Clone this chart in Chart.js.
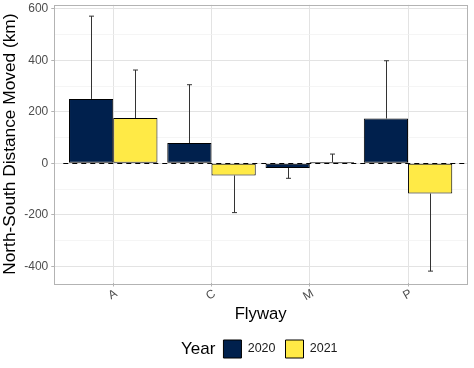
<!DOCTYPE html>
<html>
<head>
<meta charset="utf-8">
<script src="https://cdn.jsdelivr.net/npm/chart.js"></script>
<style>
  html, body { margin: 0; padding: 0; background: #ffffff; }
  #wrap { width: 474px; height: 368px; }
</style>
</head>
<body>
<div id="wrap"><canvas id="myChart" width="474" height="368"></canvas></div>
<script>
// values
var flyways = ['A', 'C', 'M', 'P'];
var years = ['2020', '2021'];
var mean2020 = [250, 79, -18, 174];
var mean2021 = [176, -47, 5, -117];
// end of the error bar (away from zero)
var err2020 = [571, 305, -58, 398];
var err2021 = [362, -191, 36, -418];
var yTicks = [-400, -200, 0, 200, 400, 600];

var colors = ['#00204D', '#FFEA46'];
var font = "'Liberation Sans', Arial, sans-serif";
var legendShift = 94;

function points(vals) {
  return vals.map(function (v, i) { return { x: i + 1, y: v }; });
}

var errorBars = {
  id: 'errorBars',
  afterDatasetsDraw: function (chart) {
    var ctx = chart.ctx;
    var ys = chart.scales.y;
    var ends = [err2020, err2021];
    ctx.save();
    ctx.strokeStyle = '#333333';
    ctx.lineWidth = 1;
    chart.data.datasets.forEach(function (ds, d) {
      var meta = chart.getDatasetMeta(d);
      meta.data.forEach(function (bar, i) {
        var x = Math.round(bar.x) + 0.5;
        var y0 = ys.getPixelForValue(ds.data[i].y);
        var y1 = ys.getPixelForValue(ends[d][i]);
        ctx.beginPath();
        ctx.moveTo(x, y0);
        ctx.lineTo(x, y1);
        ctx.moveTo(x - 2.5, y1);
        ctx.lineTo(x + 2.5, y1);
        ctx.stroke();
      });
    });
    ctx.restore();
  }
};

var zeroLine = {
  id: 'zeroLine',
  beforeDatasetsDraw: function (chart) {
    var ctx = chart.ctx;
    var a = chart.chartArea;
    var y = Math.round(chart.scales.y.getPixelForValue(0)) + 0.5;
    ctx.save();
    ctx.strokeStyle = '#000000';
    ctx.lineWidth = 1.2;
    ctx.setLineDash([5, 4]);
    ctx.beginPath();
    ctx.moveTo(a.left + 9, y);
    ctx.lineTo(a.right, y);
    ctx.stroke();
    ctx.restore();
  }
};

var frame = {
  id: 'frame',
  afterDraw: function (chart) {
    var a = chart.chartArea;
    var ctx = chart.ctx;
    ctx.save();
    ctx.strokeStyle = '#B3B3B3';
    ctx.lineWidth = 1;
    ctx.strokeRect(Math.round(a.left) + 0.5, Math.round(a.top) + 0.5,
      Math.round(a.right - a.left), Math.round(a.bottom - a.top));
    ctx.restore();
  }
};

// legend title drawn to the left of the keys, as in ggplot
var legendTitle = {
  id: 'legendTitle',
  afterLayout: function (chart) {
    chart.legend.left += legendShift;
  },
  afterDraw: function (chart) {
    var lg = chart.legend;
    var pad = lg.options.labels.padding;
    var firstX = ((lg.left + pad) + (lg.right - lg.lineWidths[0])) / 2;
    var hb = lg.legendHitBoxes[0];
    var ctx = chart.ctx;
    ctx.save();
    ctx.fillStyle = '#000000';
    ctx.font = '17px ' + font;
    ctx.textAlign = 'right';
    ctx.textBaseline = 'middle';
    ctx.fillText('Year', firstX - 8, hb.top + hb.height / 2);
    ctx.restore();
  }
};

var config = {
  type: 'bar',
  data: {
    datasets: [{
      label: years[0],
      data: points(mean2020),
      backgroundColor: colors[0],
      borderColor: '#000000',
      borderWidth: 1,
      borderSkipped: false
    }, {
      label: years[1],
      data: points(mean2021),
      backgroundColor: colors[1],
      borderColor: '#000000',
      borderWidth: 1,
      borderSkipped: false
    }]
  },
  options: {
    responsive: false,
    animation: false,
    categoryPercentage: 0.9,
    barPercentage: 1.0,
    layout: { padding: { top: 0, right: 7, bottom: 0, left: 0 } },
    plugins: {
      legend: {
        position: 'bottom',
        labels: {
          boxWidth: 18,
          boxHeight: 18,
          padding: 10,
          color: '#1A1A1A',
          font: { family: font, size: 12.5 }
        }
      },
      tooltip: { enabled: false },
      title: { display: false }
    },
    scales: {
      x: {
        type: 'linear',
        offset: false,
        min: 0.4,
        max: 4.6,
        afterBuildTicks: function (scale) {
          scale.ticks = flyways.map(function (f, i) { return { value: i + 1 }; });
        },
        ticks: {
          autoSkip: false,
          maxRotation: 30,
          minRotation: 30,
          padding: 0,
          labelOffset: 3,
          color: '#4D4D4D',
          font: { family: font, size: 12 },
          callback: function (v) { return flyways[v - 1]; }
        },
        grid: {
          offset: false,
          color: '#E3E3E3',
          lineWidth: 1,
          tickColor: '#B3B3B3',
          tickLength: 3
        },
        border: { display: false },
        title: {
          display: true,
          text: 'Flyway',
          color: '#000000',
          font: { family: font, size: 16.7 },
          padding: { top: 0, bottom: 6 }
        }
      },
      y: {
        min: -466,
        max: 615,
        ticks: {
          stepSize: 100,
          includeBounds: false,
          autoSkip: false,
          padding: 3,
          color: '#4D4D4D',
          font: { family: font, size: 12, lineHeight: 0.3 },
          callback: function (v) { return yTicks.indexOf(v) >= 0 ? String(v) : ''; }
        },
        grid: {
          color: function (c) { return yTicks.indexOf(c.tick.value) >= 0 ? '#E3E3E3' : '#F0F0F0'; },
          lineWidth: function (c) { return yTicks.indexOf(c.tick.value) >= 0 ? 1 : 0.7; },
          tickColor: function (c) { return yTicks.indexOf(c.tick.value) >= 0 ? '#B3B3B3' : 'rgba(0,0,0,0)'; },
          tickLength: 3
        },
        border: { display: false },
        title: {
          display: true,
          text: 'North-South Distance Moved (km)',
          color: '#000000',
          font: { family: font, size: 17.3 },
          padding: { top: 0, bottom: 0.5 }
        }
      }
    }
  },
  plugins: [zeroLine, errorBars, frame, legendTitle]
};

var myChart = new Chart(document.getElementById('myChart'), config);
</script>
</body>
</html>
